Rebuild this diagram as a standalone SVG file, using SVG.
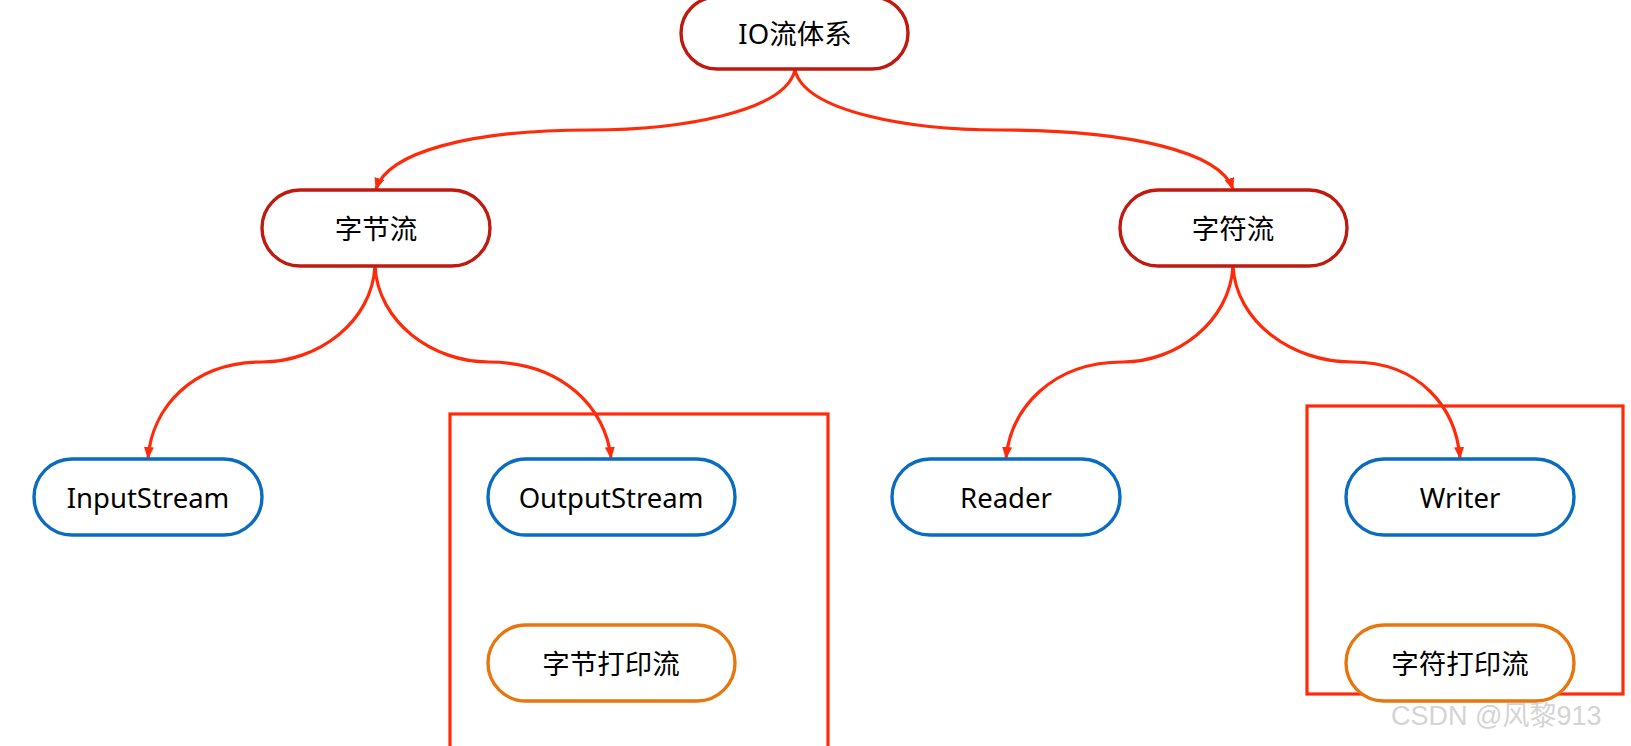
<svg xmlns="http://www.w3.org/2000/svg" width="1631" height="746" viewBox="0 0 1631 746">
<defs>
<style>
.node rect{fill:#fff;stroke-width:3.4}
.top rect{stroke:#C01A10}
.blue rect{stroke:#0A6CC0}
.orange rect{stroke:#E8760F}
text{font-family:"Noto Sans","Noto Sans CJK SC",sans-serif;font-size:27.5px;font-weight:400;fill:#000;text-anchor:middle;dominant-baseline:central}
.conn path{fill:none;stroke:#FF2A0A;stroke-width:3.2;marker-end:url(#arr)}
.box{fill:none;stroke:#FF2A0A;stroke-width:3.2}
</style>
<marker id="arr" viewBox="0 0 12 10" refX="11" refY="5" markerWidth="12" markerHeight="10" markerUnits="userSpaceOnUse" orient="auto">
<path d="M0,0 L12,5 L0,10 Z" fill="#FF2A0A"/>
</marker>
</defs>
<rect width="1631" height="746" fill="#fff"/>
<rect class="box" x="450" y="414" width="378" height="340"/>
<rect class="box" x="1307" y="406" width="316" height="288"/>
<g class="conn">
<path d="M795,70 C785,112 680,130 590,130 C470,130 388,152 376,189"/>
<path d="M795,70 C805,112 910,130 1000,130 C1130,130 1220,152 1233,189"/>
<path d="M375,266 C372,322 318,362 262,362 C192,362 152,408 148,458"/>
<path d="M375,266 C378,322 432,362 489,362 C562,362 606,408 611,458"/>
<path d="M1233,266 C1230,322 1176,362 1123,362 C1052,362 1011,408 1006,458"/>
<path d="M1233,266 C1236,322 1292,362 1352,362 C1420,362 1456,408 1460,458"/>
</g>
<g id="n-root" class="node top"><rect x="681" y="-3" width="227" height="72" rx="36"/><text x="795" y="33">IO流体系</text></g>
<g id="n-byte" class="node top"><rect x="262" y="190" width="228" height="76" rx="38"/><text x="376" y="228">字节流</text></g>
<g id="n-char" class="node top"><rect x="1120" y="190" width="227" height="76" rx="38"/><text x="1233" y="228">字符流</text></g>
<g id="n-input" class="node blue"><rect x="34" y="459" width="228" height="76" rx="38"/><text x="148" y="497">InputStream</text></g>
<g id="n-output" class="node blue"><rect x="488" y="459" width="247" height="76" rx="38"/><text x="611" y="497">OutputStream</text></g>
<g id="n-reader" class="node blue"><rect x="892" y="459" width="228" height="76" rx="38"/><text x="1006" y="497">Reader</text></g>
<g id="n-writer" class="node blue"><rect x="1346" y="459" width="228" height="76" rx="38"/><text x="1460" y="497">Writer</text></g>
<g id="n-byteprint" class="node orange"><rect x="488" y="625" width="247" height="76" rx="38"/><text x="611" y="663">字节打印流</text></g>
<g id="n-charprint" class="node orange"><rect x="1346" y="625" width="228" height="76" rx="38"/><text x="1460" y="663">字符打印流</text></g>
<text x="1391" y="716" style="text-anchor:start;font-family:'Liberation Sans','Noto Sans CJK SC',sans-serif;font-size:27px;fill:#d4d4d4">CSDN @风黎913</text>
</svg>
